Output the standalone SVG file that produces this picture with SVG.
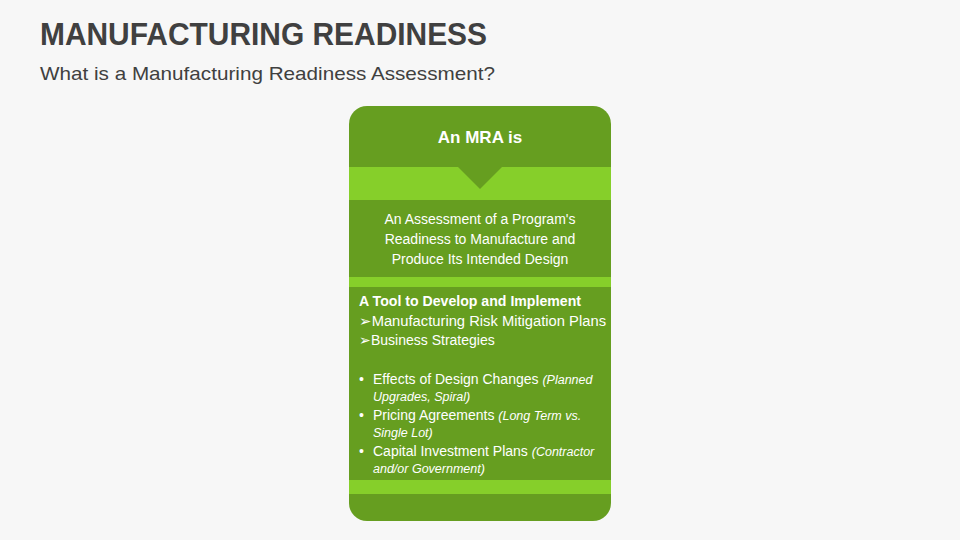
<svg xmlns="http://www.w3.org/2000/svg" width="960" height="540" viewBox="0 0 960 540">
<style>
text{font-family:"Liberation Sans",Arial,sans-serif;fill:#fff}
.d{fill:#669e20}.l{fill:#86cf2a}
.b{font-size:14px}
.i{font-style:italic;font-size:12.5px}
</style>
<rect width="960" height="540" fill="#f7f7f7"/>
<text x="40" y="45" style="fill:#404040;font-size:31px;font-weight:bold" textLength="447" lengthAdjust="spacingAndGlyphs">MANUFACTURING READINESS</text>
<text x="40" y="80" style="fill:#404040;font-size:19px" textLength="455" lengthAdjust="spacingAndGlyphs">What is a Manufacturing Readiness Assessment?</text>
<g id="card">
<rect class="d" x="349" y="106" width="262" height="415" rx="18"/>
<rect class="l" x="349" y="167" width="262" height="33"/>
<polygon class="d" points="458,167 502,167 480,189"/>
<rect class="l" x="349" y="277" width="262" height="10"/>
<rect class="l" x="349" y="480" width="262" height="14"/>
<text x="480" y="143" text-anchor="middle" style="font-size:17px;font-weight:bold">An MRA is</text>
<text x="480" y="224" text-anchor="middle" class="b">An Assessment of a Program's</text>
<text x="480" y="244" text-anchor="middle" class="b">Readiness to Manufacture and</text>
<text x="480" y="264" text-anchor="middle" class="b">Produce Its Intended Design</text>
<text x="359" y="306" class="b" style="font-weight:bold" textLength="222" lengthAdjust="spacingAndGlyphs">A Tool to Develop and Implement</text>
<text x="359" y="326" class="b" textLength="247" lengthAdjust="spacingAndGlyphs">➢Manufacturing Risk Mitigation Plans</text>
<text x="359" y="345" class="b">➢Business Strategies</text>
<text x="359" y="384" class="b">•</text>
<text x="373" y="384" class="b">Effects of Design Changes <tspan class="i">(Planned</tspan></text>
<text x="373" y="401" class="i">Upgrades, Spiral)</text>
<text x="359" y="420" class="b">•</text>
<text x="373" y="420" class="b">Pricing Agreements <tspan class="i">(Long Term vs.</tspan></text>
<text x="373" y="437" class="i">Single Lot)</text>
<text x="359" y="456" class="b">•</text>
<text x="373" y="456" class="b">Capital Investment Plans <tspan class="i">(Contractor</tspan></text>
<text x="373" y="473" class="i">and/or Government)</text>
</g>
</svg>
